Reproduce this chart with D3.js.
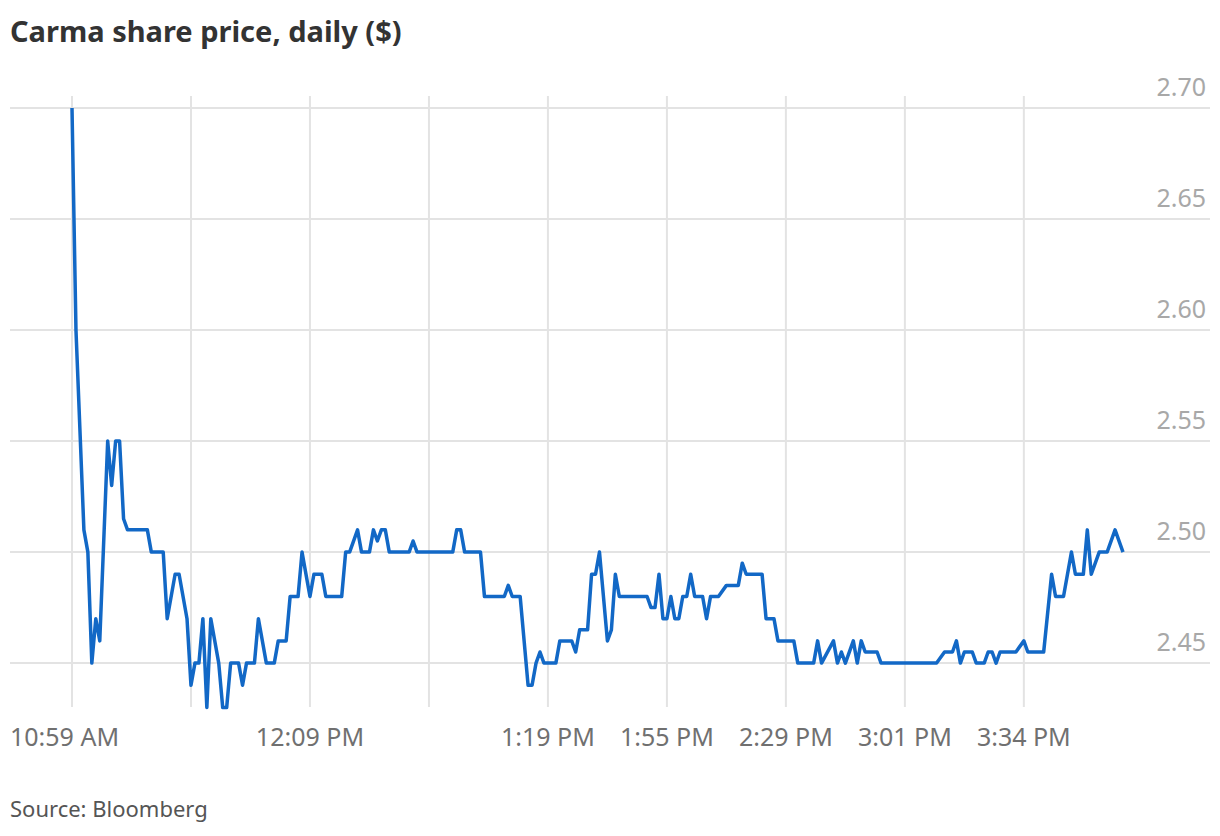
<!DOCTYPE html>
<html><head><meta charset="utf-8">
<script src="https://cdn.jsdelivr.net/npm/d3@7/dist/d3.min.js"></script>
<style>body{margin:0;background:#fff;font-family:"Noto Sans",sans-serif}</style>
</head><body><svg id="c" width="1220" height="836"></svg>
<script>
const tick = [0,1,3,4,5,6,7,9,10,11,12,13,14,19,20,23,24,26,27,29,30,31,32,33,34,35,37,38,39,40,42,43,44,46,47,49,51,52,54,55,57,58,60,61,63,64,68,69,70,72,73,75,76,77,78,79,80,85,86,87,96,97,98,99,103,104,109,110,111,113,115,116,117,118,119,122,123,126,127,128,130,131,132,133,135,136,137,138,143,145,146,147,148,149,150,151,152,153,154,155,156,157,159,160,161,163,165,168,169,170,174,175,177,178,182,183,187,188,189,192,193,194,195,197,198,199,200,203,204,218,220,222,223,224,225,227,228,230,231,232,233,234,238,240,241,245,247,248,250,252,253,255,256,257,259,261,263,265];
const price = [2.70,2.60,2.51,2.50,2.45,2.47,2.46,2.55,2.53,2.55,2.55,2.515,2.51,2.51,2.50,2.50,2.47,2.49,2.49,2.47,2.44,2.45,2.45,2.47,2.43,2.47,2.45,2.43,2.43,2.45,2.45,2.44,2.45,2.45,2.47,2.45,2.45,2.46,2.46,2.48,2.48,2.50,2.48,2.49,2.49,2.48,2.48,2.50,2.50,2.51,2.50,2.50,2.51,2.505,2.51,2.51,2.50,2.50,2.505,2.50,2.50,2.51,2.51,2.50,2.50,2.48,2.48,2.485,2.48,2.48,2.44,2.44,2.45,2.455,2.45,2.45,2.46,2.46,2.455,2.465,2.465,2.49,2.49,2.50,2.46,2.465,2.49,2.48,2.48,2.48,2.475,2.475,2.49,2.47,2.47,2.48,2.47,2.47,2.48,2.48,2.49,2.48,2.48,2.47,2.48,2.48,2.485,2.485,2.495,2.49,2.49,2.47,2.47,2.46,2.46,2.45,2.45,2.46,2.45,2.46,2.45,2.455,2.45,2.46,2.45,2.46,2.455,2.455,2.45,2.45,2.455,2.455,2.46,2.45,2.455,2.455,2.45,2.45,2.455,2.455,2.45,2.455,2.455,2.46,2.455,2.455,2.49,2.48,2.48,2.50,2.49,2.49,2.51,2.49,2.50,2.50,2.51,2.50];
const gridTicks = [0,30,60,90,120,150,180,210,240];
const labelTicks = [0,60,120,150,180,210,240];
const timeLabels = ["10:59 AM","12:09 PM","1:19 PM","1:55 PM","2:29 PM","3:01 PM","3:34 PM"];
const yTicks = [2.45,2.50,2.55,2.60,2.65,2.70];

const svg = d3.select("#c");
const x = d3.scaleLinear().domain([0,265]).range([72,1123]);
const y = d3.scaleLinear().domain([2.43,2.70]).range([707.5,108]);

svg.append("g").selectAll("line").data(gridTicks).join("line")
  .attr("x1",d=>x(d)).attr("x2",d=>x(d)).attr("y1",96).attr("y2",707)
  .attr("stroke","#e3e3e3").attr("stroke-width",2);
svg.append("g").selectAll("line").data(yTicks).join("line")
  .attr("x1",10).attr("x2",1210).attr("y1",d=>y(d)).attr("y2",d=>y(d))
  .attr("stroke","#e3e3e3").attr("stroke-width",2);
svg.append("g").selectAll("text").data(yTicks).join("text")
  .attr("x",1206).attr("y",d=>y(d)-12).attr("text-anchor","end")
  .attr("font-size",25).attr("fill","#a8a8a8").text(d=>d.toFixed(2));
svg.append("g").selectAll("text").data(labelTicks).join("text")
  .attr("x",(d,i)=>i===0?10:x(d)).attr("y",746).attr("text-anchor",(d,i)=>i===0?"start":"middle")
  .attr("font-size",25).attr("fill","#707070").text((d,i)=>timeLabels[i]);

const pts = tick.map((t,i)=>[t,price[i]]);
svg.append("path").datum(pts)
  .attr("d",d3.line().x(d=>x(d[0])).y(d=>y(d[1])))
  .attr("fill","none").attr("stroke","#1268c6").attr("stroke-width",3.5).attr("stroke-linejoin","round");

svg.append("text").attr("x",10).attr("y",42).attr("font-size",29).attr("font-weight",700)
  .attr("fill","#333").text("Carma share price, daily ($)");
svg.append("text").attr("x",10).attr("y",817).attr("font-size",22)
  .attr("fill","#555").text("Source: Bloomberg");
</script></body></html>
